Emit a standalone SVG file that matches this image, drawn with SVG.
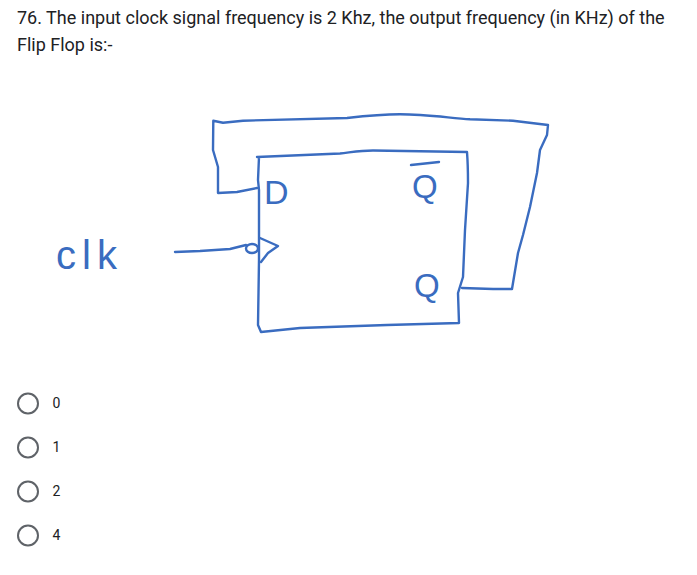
<svg xmlns="http://www.w3.org/2000/svg" width="697" height="575" viewBox="0 0 697 575">
<style>
.q{font-family:Roboto,"Liberation Sans",sans-serif;font-size:18px;fill:#202124}
.o{font-family:Roboto,"Liberation Sans",sans-serif;font-size:14px;fill:#202124}
.r{fill:none;stroke:#5f6368;stroke-width:2}
.ink{fill:none;stroke:#3a6cc0;stroke-width:2.400;stroke-linecap:round;stroke-linejoin:round}
.hw{font-family:"Liberation Sans",sans-serif;fill:#3a6cc0}
</style>
<rect width="697" height="575" fill="#fff"/>
<g id="question">
<text class="q" x="17" y="24">76. The input clock signal frequency is 2 Khz, the output frequency (in KHz) of the</text>
<text class="q" x="17" y="51">Flip Flop is:-</text>
</g>
<g id="flipflop">
<path class="ink" d="M257 157L340 153.500C350 152.500 360 150.500 373 150.500L467 152C468 165 468 175 468 183L465 230L463 277L458 293L459 323L387 325L300 328L261 332L258 325L259 260L259 190L258 180L259 157"/>
<path class="ink" d="M260 238L278 246L268 253L261 262"/>
</g>
<g id="label-d"><text class="hw" x="264" y="204" font-size="34">D</text></g>
<g id="label-qbar"><path class="ink" d="M411 165L439 162"/><text class="hw" x="412" y="198" font-size="33">Q</text></g>
<g id="label-q"><text class="hw" x="414" y="297" font-size="33">Q</text></g>
<g id="label-clk"><text class="hw" x="56" y="269" font-size="40" letter-spacing="6">clk</text></g>
<g id="connectors">
<path class="ink" d="M257 188L237 192L218 193L218 167L213 150L213.300 120.700L223 122.700L243 120.700L347 118C365 116 385 114.300 400 114.300C425 114.300 450 118 470 119.300L513 120.700L548 125L547 135L540 150L537 173L530 207L523 235L518 253L512 289L493 289L462 288"/>
<path class="ink" d="M175 252L200 251L230 249L246 245"/>
<ellipse class="ink" cx="252" cy="248.500" rx="6" ry="4.500"/>
</g>
<g id="options">
<circle class="r" cx="28" cy="403.500" r="10"/><text class="o" x="52.500" y="408">0</text>
<circle class="r" cx="28" cy="447.500" r="10"/><text class="o" x="52.500" y="452">1</text>
<circle class="r" cx="28" cy="491.500" r="10"/><text class="o" x="52.500" y="496">2</text>
<circle class="r" cx="28" cy="535.500" r="10"/><text class="o" x="52.500" y="540">4</text>
</g>
</svg>
